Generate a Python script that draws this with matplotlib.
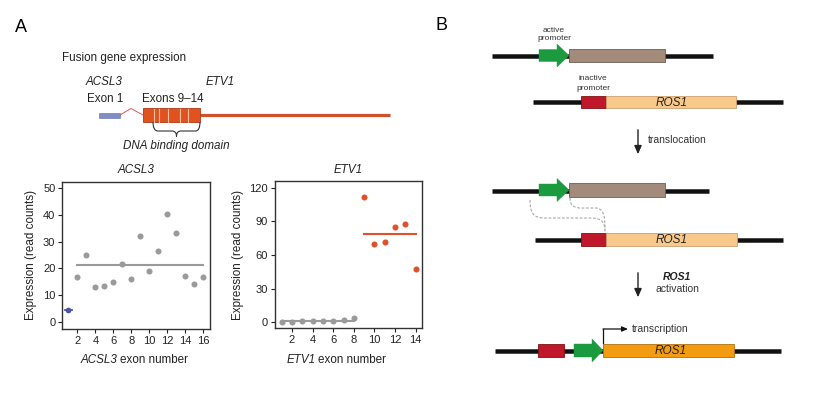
import numpy as np
import matplotlib
matplotlib.use("Agg")
import matplotlib.pyplot as plt
from matplotlib.patches import Rectangle, Polygon, PathPatch
from matplotlib.path import Path

plt.rcParams['font.family'] = ['Liberation Sans', 'DejaVu Sans']

# ---------------- data ----------------
acsl3_exons = list(range(1, 17))
acsl3_counts = [4.5, 16.8, 25, 13.2, 13.6, 15, 21.5, 16, 32, 19, 26.5, 40.5, 33.3, 17.2, 14, 16.8]
etv1_exons = list(range(1, 15))
etv1_counts = [0.5, 0.5, 1, 1.5, 1.5, 1, 2.5, 4, 112, 70, 72, 85, 88, 48]
acsl3_xticks = [2, 4, 6, 8, 10, 12, 14, 16]
acsl3_yticks = [0, 10, 20, 30, 40, 50]
etv1_xticks = [2, 4, 6, 8, 10, 12, 14]
etv1_yticks = [0, 30, 60, 90, 120]

W, H = 828, 395
fig = plt.figure(figsize=(W / 100, H / 100), dpi=100)
fig.patch.set_facecolor('white')

GREY = '#9a9a9a'
ORANGE = '#e0502a'
BLUE = '#4a55a8'
TICKC = '#222222'
FS = 8.4

def fpos(l, r, t, b):
    return [l / W, (H - b) / H, (r - l) / W, (b - t) / H]

def style(ax):
    for s in ax.spines.values():
        s.set_linewidth(1.0)
        s.set_color('#333333')
    ax.tick_params(direction='out', length=3, width=0.8, labelsize=8,
                   colors=TICKC, pad=2)

# ACSL3 scatter
ax1 = fig.add_axes(fpos(62.3, 210, 182, 329))
x1 = np.array(acsl3_exons)
y1 = np.array(acsl3_counts)
ax1.scatter(x1[1:], y1[1:], s=19, color=GREY, zorder=3, linewidths=0)
ax1.scatter(x1[:1], y1[:1], s=17, color=BLUE, zorder=3, linewidths=0)
ax1.plot([0.6, 1.45], [y1[0], y1[0]], color=BLUE, lw=1.3, zorder=2)
m1 = y1[1:].mean()
ax1.plot([x1[1], x1[-1]], [m1, m1], color=GREY, lw=1.5, zorder=2)
ax1.set_xlim(0.33, 16.74)
ax1.set_ylim(-2.7, 52.4)
ax1.set_xticks(acsl3_xticks)
ax1.set_yticks(acsl3_yticks)
style(ax1)
ax1.set_ylabel('Expression (read counts)', fontsize=FS, color=TICKC)
ax1.yaxis.set_label_coords(-0.171, 0.5)

# ETV1 scatter
ax2 = fig.add_axes(fpos(275, 421.7, 181, 328))
x2 = np.array(etv1_exons)
y2 = np.array(etv1_counts)
ax2.scatter(x2[:8], y2[:8], s=19, color=GREY, zorder=3, linewidths=0)
ax2.scatter(x2[8:], y2[8:], s=19, color=ORANGE, zorder=3, linewidths=0)
mg = y2[:8].mean()
mo = y2[8:].mean()
ax2.plot([x2[0], x2[7]], [mg, mg], color=GREY, lw=1.5, zorder=2)
ax2.plot([x2[8], x2[-1]], [mo, mo], color=ORANGE, lw=1.5, zorder=2)
ax2.set_xlim(0.35, 14.58)
ax2.set_ylim(-5, 126)
ax2.set_xticks(etv1_xticks)
ax2.set_yticks(etv1_yticks)
style(ax2)
ax2.set_ylabel('Expression (read counts)', fontsize=FS, color=TICKC)
ax2.yaxis.set_label_coords(-0.211, 0.5)

# ---------------- overlay for diagrams ----------------
ov = fig.add_axes([0, 0, 1, 1], zorder=-1)
ov.set_xlim(0, W)
ov.set_ylim(H, 0)
ov.axis('off')

# axis titles and x labels (italic gene names + plain text)
ov.text(136, 170, 'ACSL3', fontsize=FS, style='italic', ha='center', va='center', color=TICKC)
ov.text(348.4, 170, 'ETV1', fontsize=FS, style='italic', ha='center', va='center', color=TICKC)
ov.text(117.8, 360, 'ACSL3', fontsize=FS, style='italic', ha='right', va='center', color=TICKC)
ov.text(120, 360, 'exon number', fontsize=FS, ha='left', va='center', color=TICKC)
ov.text(315.5, 360, 'ETV1', fontsize=FS, style='italic', ha='right', va='center', color=TICKC)
ov.text(317.7, 360, 'exon number', fontsize=FS, ha='left', va='center', color=TICKC)

def rect(x0, x1_, y0, y1_, fc, ec=None, lw=0.6, z=2):
    ov.add_patch(Rectangle((x0, y0), x1_ - x0, y1_ - y0, facecolor=fc,
                           edgecolor=ec if ec else fc, lw=lw, zorder=z))

def hline(x0, x1_, y, lw_px, c='#111111', z=1):
    ov.plot([x0, x1_], [y, y], color=c, lw=lw_px * 0.72, solid_capstyle='butt', zorder=z)

def arrow_shape(x0, tip, yc, body_half, head_half, head_len, c='#1c9a40'):
    pts = [(x0, yc - body_half), (tip - head_len, yc - body_half), (tip - head_len, yc - head_half),
           (tip, yc), (tip - head_len, yc + head_half), (tip - head_len, yc + body_half),
           (x0, yc + body_half)]
    ov.add_patch(Polygon(pts, closed=True, facecolor=c, edgecolor=c, lw=0.3, zorder=3))

# Panel labels
ov.text(20.5, 27, 'A', fontsize=13, ha='center', va='center', color='black')
ov.text(442, 25, 'B', fontsize=13, ha='center', va='center', color='black')

# Panel A gene diagram
ov.text(61.7, 58, 'Fusion gene expression', fontsize=FS, ha='left', va='center', color=TICKC)
ov.text(86, 82, 'ACSL3', fontsize=FS, style='italic', ha='left', va='center', color=TICKC)
ov.text(205.7, 82, 'ETV1', fontsize=FS, style='italic', ha='left', va='center', color=TICKC)
ov.text(86.7, 99.5, 'Exon 1', fontsize=FS, ha='left', va='center', color=TICKC)
ov.text(142.3, 99.5, 'Exons 9\u201314', fontsize=FS, ha='left', va='center', color=TICKC)
hline(200, 390, 115, 3.2, c='#d0522a')
rect(99, 120, 113, 117.5, '#7f8fc4', ec='#5a6aa8', lw=0.4)
ov.plot([120, 131, 143], [115, 108.5, 115], color='#e05a5a', lw=0.7, zorder=2)
rect(143.3, 200, 108, 122, '#e0531f', ec='#b0381a', lw=0.6)
for sx in [154, 159.3, 168.3, 180, 187.7]:
    ov.plot([sx, sx], [108.5, 121.5], color='#f4c0a0', lw=0.8, zorder=3)
brace = Path([(153, 122), (153, 131), (158, 131), (172, 131), (176.5, 131), (176.5, 136.5),
              (176.5, 131), (181, 131), (195.5, 131), (200, 131), (200, 122)],
             [Path.MOVETO, Path.CURVE3, Path.CURVE3, Path.LINETO, Path.CURVE3, Path.CURVE3,
              Path.CURVE3, Path.CURVE3, Path.LINETO, Path.CURVE3, Path.CURVE3])
ov.add_patch(PathPatch(brace, fill=False, edgecolor='#333333', lw=0.8, zorder=3))
ov.text(176.7, 145.5, 'DNA binding domain', fontsize=FS, style='italic', ha='center', va='center',
        color=TICKC)

# Panel B
BROWN = '#a38b7b'
RED = '#c0182a'
TAN = '#f8c98a'
ORB = '#f39c12'
GREEN = '#1c9a40'

# Row 1
hline(492, 713, 55.5, 4.5)
arrow_shape(539, 569, 55.5, 6, 11.5, 12, GREEN)
rect(569, 665, 48.5, 62, BROWN, ec='#6e5e52')
ov.text(554, 30, 'active', fontsize=6, ha='center', va='center', color='#333333')
ov.text(554, 39, 'promoter', fontsize=6, ha='center', va='center', color='#333333')

# Row 2
ov.text(593, 78, 'inactive', fontsize=6, ha='center', va='center', color='#333333')
ov.text(593, 88.5, 'promoter', fontsize=6, ha='center', va='center', color='#333333')
hline(533, 783, 102, 4.5)
rect(581, 606, 96, 108, RED, ec='#801010')
rect(606, 736, 96, 108, TAN, ec='#c9a070')
ov.text(671.5, 102.5, 'ROS1', fontsize=8.5, style='italic', ha='center', va='center', color='#222222')

# Arrow 1
ov.annotate('', xy=(638, 157), xytext=(638, 127),
            arrowprops=dict(arrowstyle='-|>,head_length=0.5,head_width=0.22', color='#222222', lw=1.0))
ov.text(648, 140, 'translocation', fontsize=7.5, ha='left', va='center', color='#333333')

# Row 3
hline(492, 709, 190.5, 4.5)
arrow_shape(539, 569, 190, 6, 11.5, 12, GREEN)
rect(569, 665, 183, 197, BROWN, ec='#6e5e52')

# Dashed curves
cA = Path([(530, 200), (530, 214), (534, 218), (545, 218), (590, 218), (602, 218), (605, 222), (605, 232)],
          [Path.MOVETO, Path.CURVE4, Path.CURVE4, Path.CURVE4, Path.LINETO, Path.CURVE4, Path.CURVE4, Path.CURVE4])
cB = Path([(570, 198), (570, 205), (573, 208), (582, 208), (595, 208), (604, 208), (605, 216), (605, 230)],
          [Path.MOVETO, Path.CURVE4, Path.CURVE4, Path.CURVE4, Path.LINETO, Path.CURVE4, Path.CURVE4, Path.CURVE4])
for cp in (cA, cB):
    ov.add_patch(PathPatch(cp, fill=False, edgecolor='#a8a8a8', lw=0.8, linestyle=(0, (2.5, 1.5)), zorder=2))

# Row 4
hline(535, 783, 239.5, 4.5)
rect(581, 606, 233, 246, RED, ec='#801010')
rect(606, 737, 233, 246, TAN, ec='#c9a070')
ov.text(671.5, 240, 'ROS1', fontsize=8.5, style='italic', ha='center', va='center', color='#222222')

# Arrow 2
ov.annotate('', xy=(638, 300), xytext=(638, 270),
            arrowprops=dict(arrowstyle='-|>,head_length=0.5,head_width=0.22', color='#222222', lw=1.0))
ov.text(677, 277, 'ROS1', fontsize=7.5, style='italic', fontweight='bold', ha='center', va='center',
        color='#222222')
ov.text(677, 289.5, 'activation', fontsize=7.5, ha='center', va='center', color='#333333')

# Row 5
hline(495, 781, 350.5, 4.5)
rect(538, 564, 344, 357, RED, ec='#801010')
arrow_shape(574, 603, 350.5, 6.5, 11.5, 11, GREEN)
rect(603, 734, 344, 357, ORB, ec='#b07010')
ov.text(671, 351, 'ROS1', fontsize=8.5, style='italic', ha='center', va='center', color='#222222')
ov.plot([603.5, 603.5], [343, 329], color='#111111', lw=0.9, zorder=3)
ov.annotate('', xy=(628, 329), xytext=(603, 329),
            arrowprops=dict(arrowstyle='-|>,head_length=0.35,head_width=0.15', color='#111111', lw=0.9,
                            shrinkA=0, shrinkB=0))
ov.text(632, 329, 'transcription', fontsize=7.5, ha='left', va='center', color='#333333')

fig.savefig('out.png', dpi=100, facecolor='white')
